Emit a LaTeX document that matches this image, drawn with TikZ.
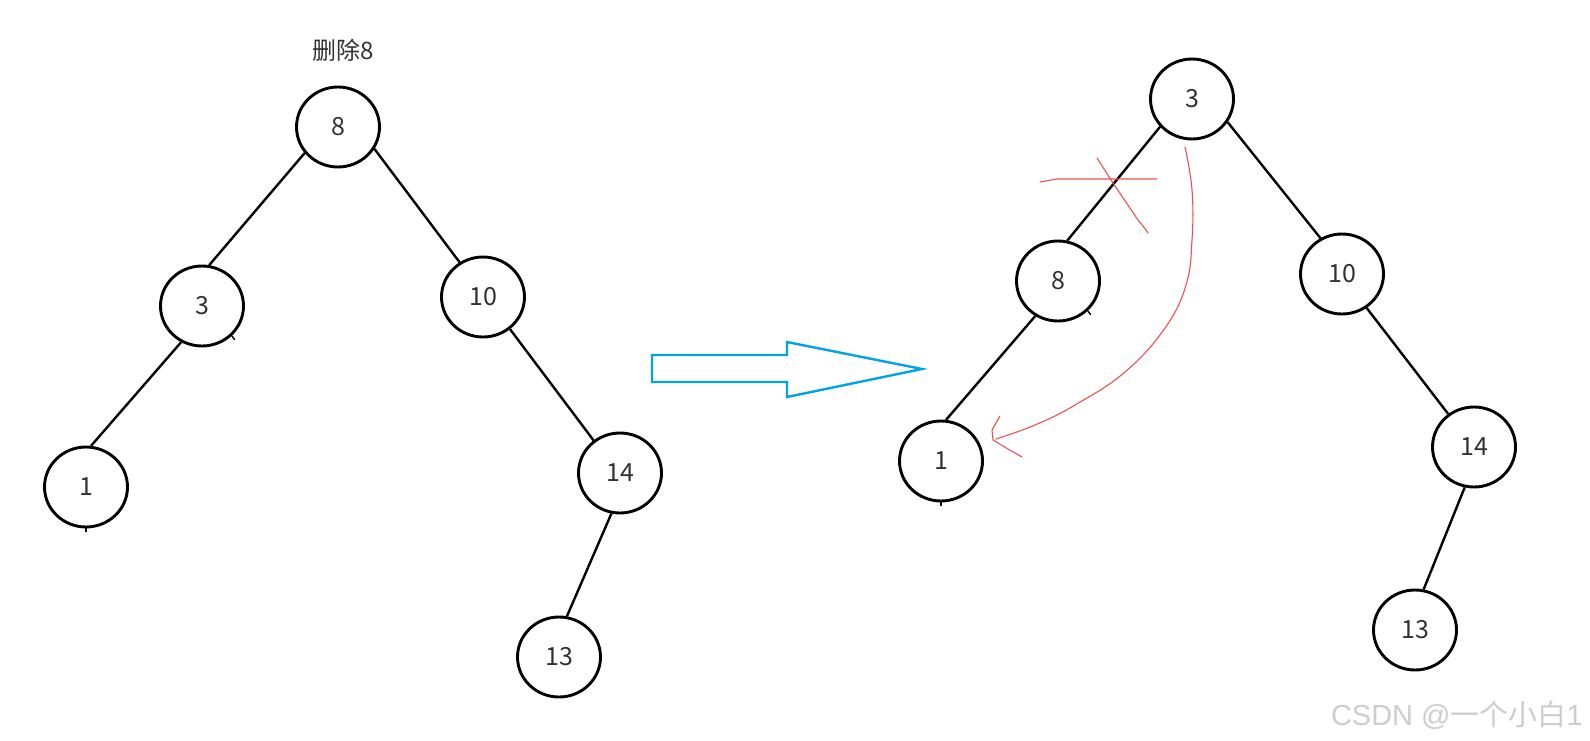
\documentclass[tikz,border=0pt]{standalone}
\usepackage{fontspec}
\usetikzlibrary{shapes.geometric}
\setmainfont{Noto Sans CJK SC}
\newfontfamily\wmlatin{Liberation Sans}
\definecolor{arrowblue}{RGB}{0,162,232}
\definecolor{penred}{RGB}{240,80,80}
\definecolor{txt}{RGB}{50,50,50}
\definecolor{wm}{RGB}{205,205,205}
\begin{document}
\begin{tikzpicture}[x=1pt,y=-1pt,
  tnode/.style={ellipse,draw=black,line width=2.9pt,minimum width=83pt,minimum height=80pt,inner sep=0pt,
    text=txt,font=\fontsize{25}{25}\selectfont},
  edge/.style={line width=2.4pt,black},
  redpen/.style={penred,line width=1.1pt,line cap=round,line join=round},
  tick/.style={line width=1.4pt,black}]
\useasboundingbox (0,0) rectangle (1590,741);
\fill[white] (0,0) rectangle (1590,741);

% title
\node[text=txt,font=\fontsize{24}{24}\selectfont] (title) at (343,50) {删除8};

% left tree
\node[tnode] (L8) at (338,127) {8};
\node[tnode] (L3) at (202,306) {3};
\node[tnode] (L10) at (483,297) {10};
\node[tnode] (L1) at (86,487) {1};
\node[tnode] (L14) at (620,473) {14};
\node[tnode] (L13) at (559,657) {13};
\draw[edge] (L8.218) -- (L3.80);
\draw[edge] (L8.-31) -- (L10.124);
\draw[edge] (L3.240) -- (L1.83);
\draw[edge] (L10.-50) -- (L14.129);
\draw[edge] (L14.258) -- (L13.79);

% right tree
\node[tnode] (R3) at (1192,99) {3};
\node[tnode] (R8) at (1058,281) {8};
\node[tnode] (R10) at (1342,274) {10};
\node[tnode] (R1) at (941,461) {1};
\node[tnode] (R14) at (1474,447) {14};
\node[tnode] (R13) at (1415,630) {13};
\draw[edge] (R3.221) -- (R8.77);
\draw[edge] (R8.237) -- (R1.83);
\draw[edge] (R3.-33) -- (R10.121);
\draw[edge] (R10.-54) -- (R14.128);
\draw[edge] (R14.257) -- (R13.78);

% small ticks
\draw[tick] (L3.-45) -- ++(3,4);
\draw[tick] (L1.-90) -- ++(0,4);
\draw[tick] (R8.-45) -- ++(3,4);
\draw[tick] (R1.-90) -- ++(0,4);

% blue arrow
\draw[arrowblue,line width=2.4pt,line join=miter]
  (652,355) -- (787,355) -- (787,342) -- (922,369) -- (787,397) -- (787,382) -- (652,382) -- cycle;

% red cross
\draw[redpen] (1040,182) -- (1057,179) -- (1157,179);
\draw[redpen] (1097,158) -- (1113,183) -- (1138,220) -- (1143,226) -- (1148,233);

% red curved arrow
\draw[redpen] plot[smooth,tension=0.7] coordinates {(1185,147) (1192,190) (1192,240) (1186,285) (1165,328) (1125,372) (1075,405) (1035,425) (996,439)};
\draw[redpen] (1000,416) -- (992,430) -- (993,440) -- (1008,449) -- (1022,457);

% watermark
\node[text=wm,font=\fontsize{29}{29}\selectfont,anchor=east,inner sep=0pt] (wmark) at (1583,715) {{\wmlatin CSDN @}一个小白{\wmlatin 1}};
\end{tikzpicture}
\end{document}
